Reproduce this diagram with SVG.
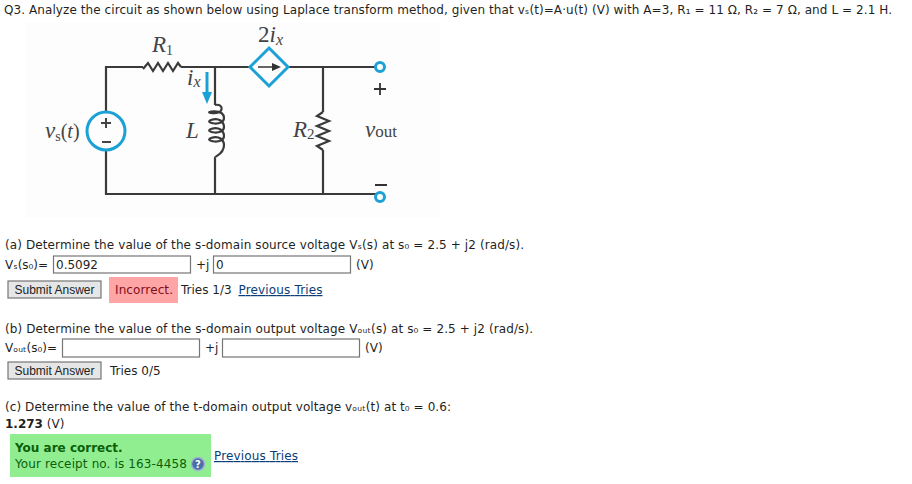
<svg xmlns="http://www.w3.org/2000/svg" width="912" height="484" viewBox="0 0 912 484">
<style>
.t{font-family:"DejaVu Sans",Verdana,sans-serif;font-size:12px;fill:#1f1f1f}
.l{font-family:"Liberation Serif",serif;font-size:23px;fill:#444}
.i{font-style:italic}
.w{fill:none;stroke:#3a3a3a;stroke-width:2.2}
.b{fill:none;stroke:#1ba1d6;stroke-width:3}
.box{fill:#fff;stroke:#767676;stroke-width:1.2}
.btn{fill:#e6e6e6;stroke:#767676;stroke-width:1.2}
.bt{font-family:"Liberation Sans",Arial,sans-serif;font-size:12px;fill:#222}
.a{text-decoration:underline}
</style>
<rect width="912" height="484" fill="#fff"/>
<rect x="25" y="22" width="415" height="196" fill="#fdfdfd"/>
<text class="t" x="4" y="14" textLength="888" lengthAdjust="spacing">Q3. Analyze the circuit as shown below using Laplace transform method, given that vₛ(t)=A·u(t) (V) with A=3, R₁ = 11 Ω, R₂ = 7 Ω, and L = 2.1 H.</text>
<g id="connectors">
<path class="w" d="M143 67H106V112M106 150V194H376M181 67H250M288 67H376M215 67V105M215 158V194M323 67V112M323 150V194"/>
</g>
<g id="R1"><path class="w" d="M143 69L148 63L153 71L158 63L163 71L168 63L173 71L178 63L181 67"/><text class="l i" x="152" y="52">R<tspan font-size="14" dy="3" font-style="normal">1</tspan></text></g>
<g id="source"><circle class="b" cx="106" cy="131" r="19"/><path d="M106 118V128M101 123H111M102 142H111" stroke="#444" stroke-width="2"/><text class="l i" x="45" y="138" font-size="20">v<tspan font-size="14" dy="3" font-style="normal">s</tspan><tspan dy="-3" font-size="20" font-style="normal">(</tspan><tspan font-size="20">t</tspan><tspan font-size="20" font-style="normal">)</tspan></text></g>
<g id="dep-source"><path class="b" d="M269 48L288 67L269 86L250 67Z"/><path d="M258 67H278" stroke="#333" stroke-width="1.5"/><path d="M272 63L281 67L272 71Z" fill="#333"/><text class="l i" x="258" y="42"><tspan font-style="normal">2</tspan>i<tspan font-size="16" dy="3">x</tspan></text></g>
<g id="ix"><path d="M207 72V92" stroke="#1ba1d6" stroke-width="3"/><path d="M202 92H212L207 104Z" fill="#1ba1d6"/><text class="l i" x="187" y="85" font-size="21">i<tspan font-size="16" dy="2">x</tspan></text></g>
<g id="L"><path class="w" d="M215 105C224 103 225 115 211 113C203 112 224 108 224 118C224 127 203 123 211 120C219 117 224 122 224 127C224 136 203 132 211 129C219 126 224 131 224 136C224 145 203 141 211 138C219 135 224 140 224 145C224 155 214 156 215 158"/><text class="l i" x="186" y="138">L</text></g>
<g id="R2"><path class="w" d="M323 112L317 116L329 121L317 126L329 131L317 136L329 141L317 146L323 150"/><text class="l i" x="293" y="137">R<tspan font-size="15" dy="2" font-style="normal">2</tspan></text></g>
<g id="out"><circle cx="380" cy="67" r="4.500" fill="#fff" stroke="#1ba1d6" stroke-width="3"/><circle cx="380" cy="197" r="4.500" fill="#fff" stroke="#1ba1d6" stroke-width="3"/><path d="M374 89H386M380 83V95M375 185H387" stroke="#333" stroke-width="1.8"/><text class="l i" x="365" y="137" font-size="18">v<tspan font-size="17" dy="0" font-style="normal">out</tspan></text></g>

<text class="t" x="5" y="249" textLength="519">(a) Determine the value of the s-domain source voltage Vₛ(s) at s₀ = 2.5 + j2 (rad/s).</text>
<text class="t" x="5" y="269" textLength="43">Vₛ(s₀)=</text>
<rect class="box" x="53.500" y="256" width="137" height="17"/>
<text class="t" x="56" y="269">0.5092</text>
<text class="t" x="196" y="269">+j</text>
<rect class="box" x="213.500" y="256" width="137" height="17"/>
<text class="t" x="216" y="269">0</text>
<text class="t" x="356" y="269">(V)</text>
<rect class="btn" x="8" y="281" width="93" height="17"/>
<text class="bt" x="54.500" y="294" text-anchor="middle">Submit Answer</text>
<rect x="109" y="277" width="69" height="26" fill="#ffa5a5"/>
<text class="t" x="115" y="294" style="fill:#7d0f1c" textLength="58">Incorrect.</text>
<text class="t" x="181" y="294">Tries 1/3</text>
<text class="t a" x="238.500" y="294" textLength="84" style="fill:#0b3c78">Previous Tries</text>

<text class="t" x="5" y="333" textLength="528">(b) Determine the value of the s-domain output voltage Vₒᵤₜ(s) at s₀ = 2.5 + j2 (rad/s).</text>
<text class="t" x="5" y="352" textLength="52">Vₒᵤₜ(s₀)=</text>
<rect class="box" x="62.500" y="339" width="137" height="18"/>
<text class="t" x="205" y="352">+j</text>
<rect class="box" x="222.500" y="339" width="137" height="18"/>
<text class="t" x="365" y="352">(V)</text>
<rect class="btn" x="8" y="362" width="93" height="17"/>
<text class="bt" x="54.500" y="375" text-anchor="middle">Submit Answer</text>
<text class="t" x="110" y="375">Tries 0/5</text>

<text class="t" x="5" y="411" textLength="446">(c) Determine the value of the t-domain output voltage vₒᵤₜ(t) at t₀ = 0.6:</text>
<text class="t" x="5" y="428"><tspan font-weight="bold">1.273</tspan> (V)</text>
<rect x="10" y="434" width="201" height="43" fill="#90ee90"/>
<text class="t" x="15" y="452" font-weight="bold" style="fill:#0b5f0b">You are correct.</text>
<text class="t" x="15" y="468" style="fill:#0b5f0b" textLength="172">Your receipt no. is 163-4458</text>
<circle cx="198" cy="464" r="6.500" fill="#4a6ea8" stroke="#9fb3cf" stroke-width="1.500"/>
<text class="t" x="198" y="468" text-anchor="middle" font-weight="bold" style="fill:#fff;font-size:10px">?</text>
<text class="t a" x="214" y="460" textLength="84" style="fill:#0b3c78">Previous Tries</text>
</svg>
